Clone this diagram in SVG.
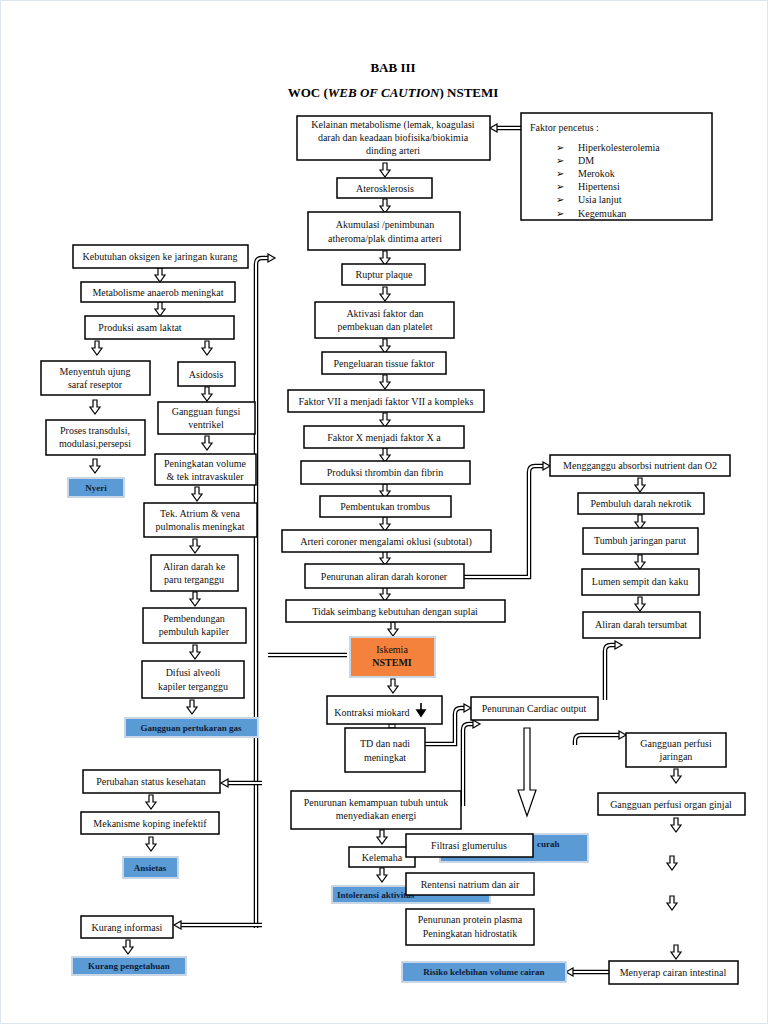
<svg xmlns="http://www.w3.org/2000/svg" xmlns:xlink="http://www.w3.org/1999/xlink" width="768" height="1024" viewBox="0 0 768 1024">
<style>
.b{fill:#fff;stroke:#000;stroke-width:1.5}
.t{font-family:"Liberation Serif",serif;font-size:10px;fill:#111;text-anchor:middle}
.bl{fill:#5b9bd5;stroke:#c9d6e6;stroke-width:2}
.bt{font-family:"Liberation Serif",serif;font-size:9px;font-weight:bold;fill:#0d1b3a;text-anchor:middle}
.dO{fill:none;stroke:#000;stroke-width:4.5}
.dI{fill:none;stroke:#fff;stroke-width:2}
.ti{font-family:"Liberation Serif",serif;font-size:13px;font-weight:bold;fill:#000;text-anchor:middle}
</style>
<defs>
<path id="da" d="M-2,0 h4 v7 h3 l-5,7 l-5,-7 h3 z" fill="#fff" stroke="#000" stroke-width="1.2"/>
<path id="ra" d="M0,-4 l7,4 l-7,4 z" fill="#fff" stroke="#000" stroke-width="1.2"/>
<path id="la" d="M0,-4 l-7,4 l7,4 z" fill="#fff" stroke="#000" stroke-width="1.2"/>
</defs>
<rect width="768" height="1024" fill="#fff"/>
<rect x="0.5" y="0.5" width="767" height="1023" fill="none" stroke="#dde6f0"/>
<text class="ti" x="393" y="72">BAB III</text>
<text class="ti" x="393" y="97">WOC (<tspan font-style="italic">WEB OF CAUTION</tspan>) NSTEMI</text>

<g id="connectors">
<g>
<path class="dO" d="M521,128 H497"/><path class="dI" d="M521,128 H497"/>
<path class="dO" d="M256,928 V264 Q256,258 262,258 H268"/><path class="dI" d="M256,928 V264 Q256,258 262,258 H268"/>
<path class="dO" d="M262,783 H228"/><path class="dI" d="M262,783 H228"/>
<path class="dO" d="M262,925 H181"/><path class="dI" d="M262,925 H181"/>
<path class="dO" d="M268,655 H347"/><path class="dI" d="M268,655 H347"/>
<path class="dO" d="M464,577 H529 V472 Q529,466 535,466 H543"/><path class="dI" d="M464,577 H529 V472 Q529,466 535,466 H543"/>
<path class="dO" d="M425,744 H455 V714 Q455,708 461,708 H464"/><path class="dI" d="M425,744 H455 V714 Q455,708 461,708 H464"/>
<path class="dO" d="M463,806 V730 Q463,724 469,724 H473"/><path class="dI" d="M463,806 V730 Q463,724 469,724 H473"/>
<path class="dO" d="M575,745 V741 Q575,735 581,735 H619"/><path class="dI" d="M575,745 V741 Q575,735 581,735 H619"/>
<path class="dO" d="M605,700 V651 Q605,645 611,645 H615"/><path class="dI" d="M605,700 V651 Q605,645 611,645 H615"/>
<path class="dO" d="M609,972 H573"/><path class="dI" d="M609,972 H573"/>
</g>
<use href="#la" x="497" y="128"/>
<use href="#ra" x="268" y="258"/>
<use href="#la" x="228" y="783"/>
<use href="#la" x="181" y="925"/>
<use href="#ra" x="543" y="466"/>
<use href="#ra" x="464" y="708"/>
<use href="#ra" x="473" y="724"/>
<use href="#ra" x="619" y="735"/>
<use href="#ra" x="615" y="645"/>
<use href="#la" x="573" y="972"/>
<path d="M524,728 h6 v62 h6 l-9,26 l-9,-26 h6 z" fill="#fff" stroke="#000" stroke-width="1.2"/>
<rect x="389" y="724" width="6" height="4" fill="#fff" stroke="#000"/>
<use href="#da" x="385" y="163"/><use href="#da" x="385" y="199"/><use href="#da" x="385" y="251"/>
<use href="#da" x="385" y="287"/><use href="#da" x="385" y="339"/><use href="#da" x="385" y="375"/>
<use href="#da" x="385" y="413"/><use href="#da" x="385" y="448"/><use href="#da" x="385" y="484"/>
<use href="#da" x="385" y="517"/><use href="#da" x="385" y="551"/><use href="#da" x="385" y="587"/>
<use href="#da" x="393" y="622"/><use href="#da" x="393" y="679"/>
<use href="#da" x="382" y="830"/><use href="#da" x="382" y="868"/>
<use href="#da" x="160" y="268"/><use href="#da" x="160" y="302"/>
<use href="#da" x="97" y="341"/><use href="#da" x="207" y="341"/>
<use href="#da" x="95" y="400"/><use href="#da" x="95" y="459"/>
<use href="#da" x="207" y="387"/><use href="#da" x="207" y="436"/><use href="#da" x="197" y="487"/>
<use href="#da" x="195" y="539"/><use href="#da" x="195" y="592"/><use href="#da" x="195" y="645"/>
<use href="#da" x="192" y="700"/>
<use href="#da" x="151" y="795"/><use href="#da" x="151" y="837"/><use href="#da" x="128" y="940"/>
<use href="#da" x="640" y="478"/><use href="#da" x="640" y="515"/><use href="#da" x="640" y="555"/><use href="#da" x="640" y="597"/>
<use href="#da" x="676" y="769"/><use href="#da" x="676" y="818"/><use href="#da" x="672" y="856"/>
<use href="#da" x="672" y="896"/><use href="#da" x="676" y="945"/>
</g>

<g id="n-kelainan"><rect class="b" x="297" y="116" width="193" height="44"/><text class="t" x="393" y="128">Kelainan metabolisme (lemak, koagulasi</text><text class="t" x="393" y="141">darah dan keadaan biofisika/biokimia</text><text class="t" x="393" y="154">dinding arteri</text></g>
<g id="n-faktor"><rect class="b" x="521" y="113" width="191" height="107"/>
<text class="t" x="530" y="131" style="text-anchor:start">Faktor pencetus :</text>
<g font-family="Liberation Serif,serif" font-size="10">
<text x="556" y="151">&#x27A2;</text><text x="578" y="151" style="text-anchor:start" class="t">Hiperkolesterolemia</text>
<text x="556" y="164">&#x27A2;</text><text x="578" y="164" style="text-anchor:start" class="t">DM</text>
<text x="556" y="177">&#x27A2;</text><text x="578" y="177" style="text-anchor:start" class="t">Merokok</text>
<text x="556" y="190">&#x27A2;</text><text x="578" y="190" style="text-anchor:start" class="t">Hipertensi</text>
<text x="556" y="203">&#x27A2;</text><text x="578" y="203" style="text-anchor:start" class="t">Usia lanjut</text>
<text x="556" y="217">&#x27A2;</text><text x="578" y="217" style="text-anchor:start" class="t">Kegemukan</text>
</g></g>
<g id="n-ateros"><rect class="b" x="337" y="178" width="95" height="20"/><text class="t" x="385" y="192">Aterosklerosis</text></g>
<g id="n-akum"><rect class="b" x="308" y="212" width="152" height="38"/><text class="t" x="385" y="228">Akumulasi /penimbunan</text><text class="t" x="385" y="242">atheroma/plak dintima arteri</text></g>
<g id="n-ruptur"><rect class="b" x="342" y="264" width="83" height="21"/><text class="t" x="384" y="278">Ruptur plaque</text></g>
<g id="n-aktiv"><rect class="b" x="315" y="302" width="139" height="36"/><text class="t" x="385" y="317">Aktivasi faktor dan</text><text class="t" x="385" y="330">pembekuan dan platelet</text></g>
<g id="n-tissue"><rect class="b" x="322" y="352" width="124" height="22"/><text class="t" x="384" y="367">Pengeluaran tissue faktor</text></g>
<g id="n-f7"><rect class="b" x="288" y="390" width="196" height="22"/><text class="t" x="386" y="405">Faktor VII a menjadi faktor VII a kompleks</text></g>
<g id="n-fx"><rect class="b" x="304" y="426" width="160" height="22"/><text class="t" x="384" y="441">Faktor X menjadi faktor X a</text></g>
<g id="n-throm"><rect class="b" x="301" y="461" width="169" height="23"/><text class="t" x="385" y="476">Produksi thrombin dan fibrin</text></g>
<g id="n-tromb"><rect class="b" x="320" y="496" width="131" height="21"/><text class="t" x="385" y="510">Pembentukan trombus</text></g>
<g id="n-oklusi"><rect class="b" x="282" y="530" width="209" height="22"/><text class="t" x="386" y="545">Arteri coroner mengalami oklusi (subtotal)</text></g>
<g id="n-aliran"><rect class="b" x="305" y="564" width="159" height="24"/><text class="t" x="384" y="580">Penurunan aliran darah koroner</text></g>
<g id="n-tidak"><rect class="b" x="286" y="600" width="219" height="22"/><text class="t" x="395" y="615">Tidak seimbang kebutuhan dengan suplai</text></g>
<g id="n-iskemia"><rect x="350" y="637" width="85" height="40" fill="#f4823c" stroke="#c9d6e6" stroke-width="2"/><text class="t" x="392" y="653">Iskemia</text><text class="t" x="392" y="666" font-weight="bold">NSTEMI</text></g>
<g id="n-kontraksi"><rect class="b" x="327" y="696" width="115" height="28"/><text class="t" x="372" y="716">Kontraksi miokard</text><path d="M421,703 v9 M417,710 l4,6 l4,-6 z" stroke="#000" stroke-width="1.6" fill="#000"/></g>
<g id="n-td"><rect class="b" x="345" y="728" width="80" height="44"/><text class="t" x="385" y="747">TD dan nadi</text><text class="t" x="385" y="761">meningkat</text></g>
<g id="n-co"><rect class="b" x="471" y="697" width="127" height="23"/><text class="t" x="534" y="712">Penurunan Cardiac output</text></g>
<g id="n-energi"><rect class="b" x="291" y="791" width="170" height="38"/><text class="t" x="376" y="806">Penurunan kemampuan tubuh untuk</text><text class="t" x="376" y="819">menyediakan energi</text></g>
<g id="n-curah"><rect class="bl" x="440" y="834" width="148" height="28"/><text class="bt" x="537" y="847" style="text-anchor:start">curah</text></g>
<g id="n-kelemahan"><rect class="b" x="349" y="847" width="66" height="20"/><text class="t" x="382" y="861">Kelemaha</text></g>
<g id="n-filtrasi"><rect class="b" x="406" y="834" width="127" height="23"/><text class="t" x="469" y="849">Filtrasi glumerulus</text></g>
<g id="n-intol"><rect class="bl" x="332" y="886" width="158" height="17"/><text class="bt" x="337" y="898" font-size="7" style="text-anchor:start">Intoleransi aktivitas</text></g>
<g id="n-retensi"><rect class="b" x="406" y="873" width="128" height="22"/><text class="t" x="470" y="888">Rentensi natrium dan air</text></g>
<g id="n-protein"><rect class="b" x="406" y="909" width="128" height="36"/><text class="t" x="470" y="923">Penurunan protein plasma</text><text class="t" x="470" y="937">Peningkatan hidrostatik</text></g>
<g id="n-risiko"><rect class="bl" x="402" y="962" width="164" height="20"/><text class="bt" x="484" y="975">Risiko kelebihan volume cairan</text></g>

<g id="n-absorbsi"><rect class="b" x="550" y="455" width="180" height="21"/><text class="t" x="640" y="469">Mengganggu absorbsi nutrient dan O2</text></g>
<g id="n-nekrotik"><rect class="b" x="578" y="493" width="126" height="21"/><text class="t" x="641" y="507">Pembuluh darah nekrotik</text></g>
<g id="n-parut"><rect class="b" x="583" y="528" width="115" height="26"/><text class="t" x="640" y="544">Tumbuh jaringan parut</text></g>
<g id="n-lumen"><rect class="b" x="582" y="569" width="117" height="26"/><text class="t" x="640" y="585">Lumen sempit dan kaku</text></g>
<g id="n-tersumbat"><rect class="b" x="583" y="612" width="117" height="26"/><text class="t" x="641" y="628">Aliran darah tersumbat</text></g>
<g id="n-perfusi"><rect class="b" x="626" y="733" width="100" height="34"/><text class="t" x="676" y="747">Gangguan perfusi</text><text class="t" x="676" y="760">jaringan</text></g>
<g id="n-ginjal"><rect class="b" x="598" y="793" width="147" height="22"/><text class="t" x="671" y="808">Gangguan perfusi organ ginjal</text></g>
<g id="n-intestinal"><rect class="b" x="609" y="961" width="129" height="23"/><text class="t" x="673" y="976">Menyerap cairan intestinal</text></g>

<g id="n-kebutuhan"><rect class="b" x="73" y="245" width="175" height="23"/><text class="t" x="160" y="260">Kebutuhan oksigen ke jaringan kurang</text></g>
<g id="n-metab"><rect class="b" x="81" y="282" width="154" height="20"/><text class="t" x="158" y="296">Metabolisme anaerob meningkat</text></g>
<g id="n-laktat"><rect class="b" x="85" y="316" width="149" height="23"/><text class="t" x="140" y="331">Produksi asam laktat</text></g>
<g id="n-saraf"><rect class="b" x="41" y="361" width="109" height="34"/><text class="t" x="95" y="375">Menyentuh ujung</text><text class="t" x="95" y="388">saraf reseptor</text></g>
<g id="n-asidosis"><rect class="b" x="178" y="362" width="57" height="24"/><text class="t" x="206" y="378">Asidosis</text></g>
<g id="n-proses"><rect class="b" x="46" y="420" width="99" height="35"/><text class="t" x="95" y="434">Proses transdulsi,</text><text class="t" x="95" y="447">modulasi,persepsi</text></g>
<g id="n-nyeri"><rect class="bl" x="68" y="478" width="56" height="19"/><text class="bt" x="96" y="491">Nyeri</text></g>
<g id="n-ventrikel"><rect class="b" x="158" y="402" width="97" height="32"/><text class="t" x="206" y="415">Gangguan fungsi</text><text class="t" x="206" y="428">ventrikel</text></g>
<g id="n-volume"><rect class="b" x="155" y="454" width="101" height="31"/><text class="t" x="205" y="467">Peningkatan volume</text><text class="t" x="205" y="480">&amp; tek intravaskuler</text></g>
<g id="n-atrium"><rect class="b" x="144" y="503" width="113" height="34"/><text class="t" x="200" y="517">Tek. Atrium &amp; vena</text><text class="t" x="200" y="530">pulmonalis meningkat</text></g>
<g id="n-paru"><rect class="b" x="151" y="555" width="87" height="36"/><text class="t" x="194" y="570">Aliran darah ke</text><text class="t" x="194" y="583">paru terganggu</text></g>
<g id="n-kapiler"><rect class="b" x="143" y="608" width="103" height="35"/><text class="t" x="194" y="622">Pembendungan</text><text class="t" x="194" y="635">pembuluh kapiler</text></g>
<g id="n-difusi"><rect class="b" x="142" y="661" width="102" height="37"/><text class="t" x="193" y="676">Difusi alveoli</text><text class="t" x="193" y="690">kapiler terganggu</text></g>
<g id="n-gas"><rect class="bl" x="125" y="718" width="133" height="19"/><text class="bt" x="191" y="731">Gangguan pertukaran gas</text></g>
<g id="n-status"><rect class="b" x="83" y="770" width="137" height="23"/><text class="t" x="151" y="785">Perubahan status kesehatan</text></g>
<g id="n-koping"><rect class="b" x="81" y="812" width="138" height="22"/><text class="t" x="150" y="827">Mekanisme koping inefektif</text></g>
<g id="n-ansietas"><rect class="bl" x="123" y="857" width="55" height="21"/><text class="bt" x="150" y="871">Ansietas</text></g>
<g id="n-informasi"><rect class="b" x="81" y="916" width="92" height="22"/><text class="t" x="127" y="931">Kurang informasi</text></g>
<g id="n-kp"><rect class="bl" x="72" y="957" width="114" height="18"/><text class="bt" x="129" y="969">Kurang pengetahuan</text></g>
</svg>
